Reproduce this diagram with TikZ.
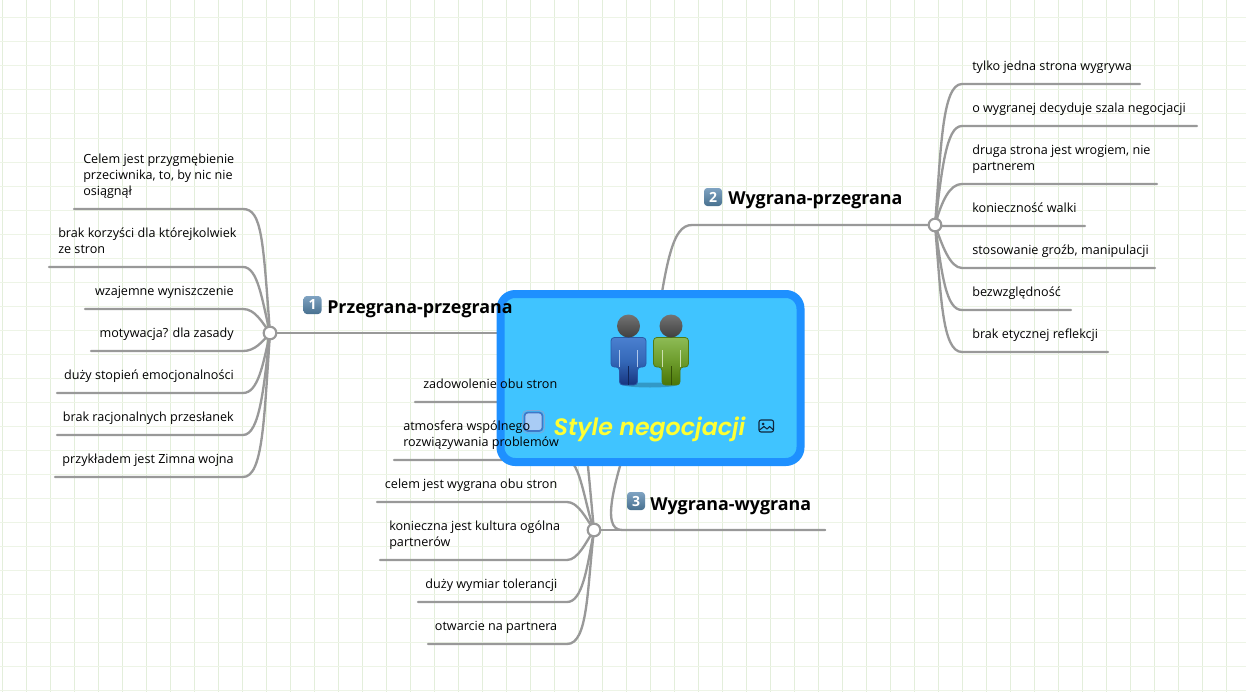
\documentclass[tikz,border=0pt]{standalone}
\usepackage{fontspec}
\setmainfont{Open Sans}
\newfontfamily\topicfont{Open Sans}
\newfontfamily\titlefont{Poppins}[UprightFont=* SemiBold Italic]
\usetikzlibrary{calc,shadings}
\definecolor{gridv}{HTML}{E3EEDB}
\definecolor{gridh}{HTML}{EDF4E6}
\definecolor{conn}{HTML}{999999}
\definecolor{rootfill}{HTML}{40C4FF}
\definecolor{rootedge}{HTML}{1E90FF}
\definecolor{badgetop}{HTML}{7FA3C2}
\definecolor{badgebot}{HTML}{48708F}
\definecolor{chkedge}{HTML}{3F78C8}
\definecolor{chkout}{HTML}{7FA8D8}
\definecolor{chkfill}{HTML}{A9CCF5}
\definecolor{titlecol}{HTML}{FFFF33}
\definecolor{iconcol}{HTML}{10263C}
\tikzset{
  x=0.75pt,y=-0.75pt,
  conn/.style={draw=conn,line width=1.75pt,line cap=round},
  hub/.style={circle,draw=conn,fill=white,line width=1.6pt,minimum size=9.5pt,inner sep=0pt},
  leafbase/.style={inner sep=0pt,yshift=-0.8pt,font=\fontsize{9.45}{12}\selectfont},
  leafl/.style={leafbase,anchor=south west,align=left},
  leafr/.style={leafbase,anchor=south east,align=right},
  topic/.style={inner sep=0pt,anchor=base west,font=\topicfont\bfseries\fontsize{13.4}{16}\selectfont},
  badge/.style={rounded corners=2.5pt,minimum size=13.5pt,inner sep=0pt,top color=badgetop,bottom color=badgebot,text=white,font=\topicfont\bfseries\fontsize{10.5}{11}\selectfont},
}
\begin{document}
\begin{tikzpicture}
\useasboundingbox (0,0) rectangle (1246,692);
\fill[white] (0,0) rectangle (1246,692);
\foreach \k in {0,...,51} {\draw[gridv,line width=0.75pt] ({2.5+24*\k},0) -- ({2.5+24*\k},692);}
\foreach \k in {0,...,28} {\draw[gridh,line width=0.75pt] (0,{18+24*\k}) -- (1246,{18+24*\k});}

% hubs
\coordinate (hl) at (270,333);
\coordinate (hr) at (935,225);
\coordinate (hb) at (594,530);
\coordinate (rootc) at (650,378);
\coordinate (rootw) at (650,333);

% left hub
\coordinate (a1) at (74,209);
\coordinate (a2) at (49,267);
\coordinate (a3) at (85,309);
\coordinate (a4) at (91,351);
\coordinate (a5) at (57,393);
\coordinate (a6) at (57,435);
\coordinate (a7) at (55,477);
\draw[conn] (a1) -- (243,209) .. controls (262,209) and (263,240) .. (hl);
\draw[conn] (a2) -- (243,267) .. controls (258,267) and (262,300) .. (hl);
\draw[conn] (a3) -- (243,309) .. controls (255,309) and (262,322) .. (hl);
\draw[conn] (a4) -- (243,351) .. controls (255,351) and (262,342) .. (hl);
\draw[conn] (a5) -- (243,393) .. controls (258,393) and (263,365) .. (hl);
\draw[conn] (a6) -- (243,435) .. controls (260,435) and (264,385) .. (hl);
\draw[conn] (a7) -- (243,477) .. controls (263,477) and (264,420) .. (hl);

% right hub
\coordinate (b1) at (1140,84);
\coordinate (b2) at (1197,126);
\coordinate (b3) at (1157,184);
\coordinate (b4) at (1085,226);
\coordinate (b5) at (1155,268);
\coordinate (b6) at (1071,310);
\coordinate (b7) at (1108,352);
\draw[conn] (b1) -- (962,84) .. controls (942,84) and (941,150) .. (hr);
\draw[conn] (b2) -- (962,126) .. controls (946,126) and (942,170) .. (hr);
\draw[conn] (b3) -- (962,184) .. controls (950,184) and (942,200) .. (hr);
\draw[conn] (b4) -- (940,226) -- (hr);
\draw[conn] (b5) -- (962,268) .. controls (950,268) and (942,245) .. (hr);
\draw[conn] (b6) -- (962,310) .. controls (946,310) and (942,275) .. (hr);
\draw[conn] (b7) -- (962,352) .. controls (942,352) and (941,295) .. (hr);

% bottom hub
\coordinate (c1) at (415,402);
\coordinate (c2) at (394,460);
\coordinate (c3) at (377,502);
\coordinate (c4) at (380,560);
\coordinate (c5) at (418,602);
\coordinate (c6) at (428,644);
\draw[conn] (c1) -- (567,402) .. controls (585,402) and (587,460) .. (hb);
\draw[conn] (c2) -- (567,460) .. controls (580,460) and (585,505) .. (hb);
\draw[conn] (c3) -- (567,502) .. controls (578,502) and (586,518) .. (hb);
\draw[conn] (c4) -- (567,560) .. controls (578,560) and (586,542) .. (hb);
\draw[conn] (c5) -- (567,602) .. controls (582,602) and (587,570) .. (hb);
\draw[conn] (c6) -- (567,644) .. controls (588,644) and (587,590) .. (hb);

% main branches
\coordinate (t3end) at (825,530);
\draw[conn] (hl) -- (rootw);
\draw[conn] (hr) -- (692,225) .. controls (672,225) and (665,260) .. (rootc);
\draw[conn] (t3end) -- (622,530) .. controls (600,530) and (612,480) .. (rootc);
\draw[conn] (hb) -- (t3end);

\node[hub] (hubL) at (hl) {};
\node[hub] (hubR) at (hr) {};
\node[hub] (hubB) at (hb) {};

% root box
\node[draw=rootedge,fill=rootfill,line width=6pt,rounded corners=11pt,minimum width=225pt,minimum height=126pt,inner sep=0pt] (root) at (650.5,378) {};

% people
\fill[black!40!rootfill,opacity=.55] (650,385) ellipse (26 and 2.5);
\foreach \px/\ca/\cb/\cc/\ce in {628.5/4A80D0/3468B8/17357F/2A5AA8,671/8DBB55/6D9C2C/4A7508/4F7A15} {
  \definecolor{ca}{HTML}{\ca}\definecolor{cb}{HTML}{\cb}\definecolor{cc}{HTML}{\cc}\definecolor{ce}{HTML}{\ce}
  \draw[ce,line width=0.6pt,rounded corners=2.5pt,top color=ca,bottom color=cc,middle color=cb]
    (\px-17.5,337.5) -- (\px+17.5,337.5) -- (\px+17.5,367) -- (\px+9,367) -- (\px+9,385) -- (\px-9,385) -- (\px-9,367) -- (\px-17.5,367) -- cycle;
  \draw[white!55!ca,line width=0.5pt] (\px-9,350) -- (\px-9,367) (\px+9,350) -- (\px+9,367);
  \draw[cc!70!black,line width=0.7pt] (\px,366) -- (\px,385);
  \shade[top color=black!55,bottom color=black!75] (\px,326) circle (11.5);
}

% checkbox
\draw[draw=chkout,line width=0.6pt,rounded corners=3.5pt] (522.5,410.5) rectangle (544.5,433);
\draw[draw=chkedge,fill=chkfill,line width=1.3pt,rounded corners=2.5pt] (524.5,412.5) rectangle (542.5,431);

% image icon
\draw[iconcol,line width=0.8pt,rounded corners=1.5pt] (759,420) rectangle (773.5,432);
\fill[iconcol] (763,424) circle (1.5);
\draw[iconcol,line width=0.8pt,line join=round] (759.5,430) -- (764,426.5) -- (767,429) -- (769.5,426.5) -- (773,429.5);

% texts
\node[inner sep=0pt,anchor=base,text=titlecol,font=\titlefont\fontsize{17.8}{22}\selectfont] (rootlabel) at (649.5,435) {Style negocjacji};

\node[leafl] (l1) at (83,199.8) {Celem jest przygmębienie\\przeciwnika, to, by nic nie\\osiągnął\strut};
\node[leafl] (l2) at (58,257.8) {brak korzyści dla którejkolwiek\\ze stron\strut};
\node[leafr] (l3) at (234,299.8) {wzajemne wyniszczenie\strut};
\node[leafr] (l4) at (234,341.8) {motywacja? dla zasady\strut};
\node[leafr] (l5) at (234,383.8) {duży stopień emocjonalności\strut};
\node[leafr] (l6) at (234,425.8) {brak racjonalnych przesłanek\strut};
\node[leafr] (l7) at (234,467.8) {przykładem jest Zimna wojna\strut};

\node[leafl] (r1) at (972,74.8) {tylko jedna strona wygrywa\strut};
\node[leafl] (r2) at (972,116.8) {o wygranej decyduje szala negocjacji\strut};
\node[leafl] (r3) at (972,174.8) {druga strona jest wrogiem, nie\\partnerem\strut};
\node[leafl] (r4) at (972,216.8) {konieczność walki\strut};
\node[leafl] (r5) at (972,258.8) {stosowanie groźb, manipulacji\strut};
\node[leafl] (r6) at (972,300.8) {bezwzględność\strut};
\node[leafl] (r7) at (972,342.8) {brak etycznej reflekcji\strut};

\node[leafr] (b1t) at (557.5,392.8) {zadowolenie obu stron\strut};
\node[leafl] (b2t) at (403,450.8) {atmosfera wspólnego\\rozwiązywania problemów\strut};
\node[leafr] (b3t) at (557.5,492.8) {celem jest wygrana obu stron\strut};
\node[leafl] (b4t) at (389,550.8) {konieczna jest kultura ogólna\\partnerów\strut};
\node[leafr] (b5t) at (557.5,592.8) {duży wymiar tolerancji\strut};
\node[leafr] (b6t) at (557.5,634.8) {otwarcie na partnera\strut};

\node[badge] (n1) at (312.5,305) {1};
\node[badge] (n2) at (713,197) {2};
\node[badge] (n3) at (636,501) {3};
\node[topic] (t1) at (327,313) {Przegrana-przegrana};
\node[topic] (t2) at (728,204) {Wygrana-przegrana};
\node[topic] (t3) at (650,510) {Wygrana-wygrana};
\end{tikzpicture}
\end{document}
